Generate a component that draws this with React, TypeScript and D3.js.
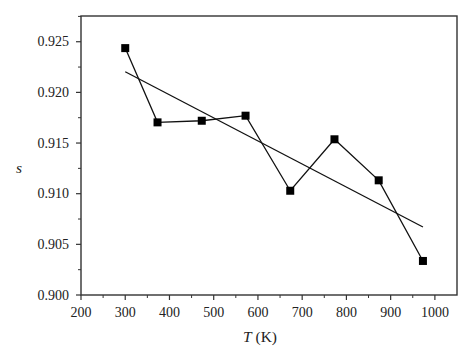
import React from 'react';
import * as d3 from 'd3';

// measured points
const temps = [300, 373, 473, 572, 673, 773, 873, 973];
const sValues = [0.92437, 0.91704, 0.9172, 0.9177, 0.91029, 0.91537, 0.91132, 0.90336];
// linear fit endpoints
const fitT = [300, 973];
const fitS = [0.92204, 0.90671];
const xTicks = [200, 300, 400, 500, 600, 700, 800, 900, 1000];
const yTicks = [0.9, 0.905, 0.91, 0.915, 0.92, 0.925];

const W = 474;
const H = 362;
const left = 81, right = 457, top = 16, bottom = 295;
const font = 'Liberation Serif';
const axisColor = '#333';
const textColor = '#222';

const App = () => {
  const x = d3.scaleLinear().domain([200, 1050]).range([left, right]);
  const y = d3.scaleLinear().domain([0.9, 0.92754]).range([bottom, top]);

  const xMinor = d3.range(250, 1050, 100);
  const yMinor = d3.range(0.9025, 0.9275, 0.005);

  const pts = temps.map((t, i) => [t, sValues[i]] as [number, number]);
  const fitData = fitT.map((t, i) => [t, fitS[i]] as [number, number]);
  const line = d3.line<[number, number]>().x(d => x(d[0])).y(d => y(d[1]));
  const sz = 8;

  return (
    <svg
      width={W}
      height={H}
      style={{ position: 'absolute', left: 0, top: 0, background: '#fff' }}
    >
      <rect x={left} y={top} width={right - left} height={bottom - top}
        fill="none" stroke={axisColor} strokeWidth={1.4} />

      {xTicks.map(d => (
        <line key={'xt' + d} x1={x(d)} x2={x(d)} y1={bottom} y2={bottom + 5}
          stroke={axisColor} strokeWidth={1.2} />
      ))}
      {xMinor.map(d => (
        <line key={'xm' + d} x1={x(d)} x2={x(d)} y1={bottom} y2={bottom + 3}
          stroke={axisColor} strokeWidth={1} />
      ))}
      {xTicks.map(d => (
        <text key={'xl' + d} x={x(d)} y={bottom + 22} textAnchor="middle" fill={textColor}
          style={{ fontFamily: font, fontSize: 14 }}>
          {d}
        </text>
      ))}

      {yTicks.map(d => (
        <line key={'yt' + d} x1={left - 5} x2={left} y1={y(d)} y2={y(d)}
          stroke={axisColor} strokeWidth={1.2} />
      ))}
      {yMinor.map(d => (
        <line key={'ym' + d} x1={left - 3} x2={left} y1={y(d)} y2={y(d)}
          stroke={axisColor} strokeWidth={1} />
      ))}
      {yTicks.map(d => (
        <text key={'yl' + d} x={left - 12} y={y(d) + 4.5} textAnchor="end" fill={textColor}
          style={{ fontFamily: font, fontSize: 14 }}>
          {d3.format('.3f')(d)}
        </text>
      ))}

      <text x={260} y={342} textAnchor="middle" fill={textColor}
        style={{ fontFamily: font, fontSize: 15.5 }}>
        <tspan style={{ fontStyle: 'italic' }}>T</tspan> (K)
      </text>
      <text x={19} y={172.5} textAnchor="middle" fill={textColor}
        style={{ fontFamily: font, fontSize: 15.5, fontStyle: 'italic' }}>
        s
      </text>

      <path d={line(fitData) || ''} fill="none" stroke="#111" strokeWidth={1.3} />
      <path d={line(pts) || ''} fill="none" stroke="#111" strokeWidth={1.3} />

      {pts.map((d, i) => (
        <rect key={'p' + i} x={x(d[0]) - sz / 2} y={y(d[1]) - sz / 2}
          width={sz} height={sz} fill="#000" />
      ))}
    </svg>
  );
};

export default App;
